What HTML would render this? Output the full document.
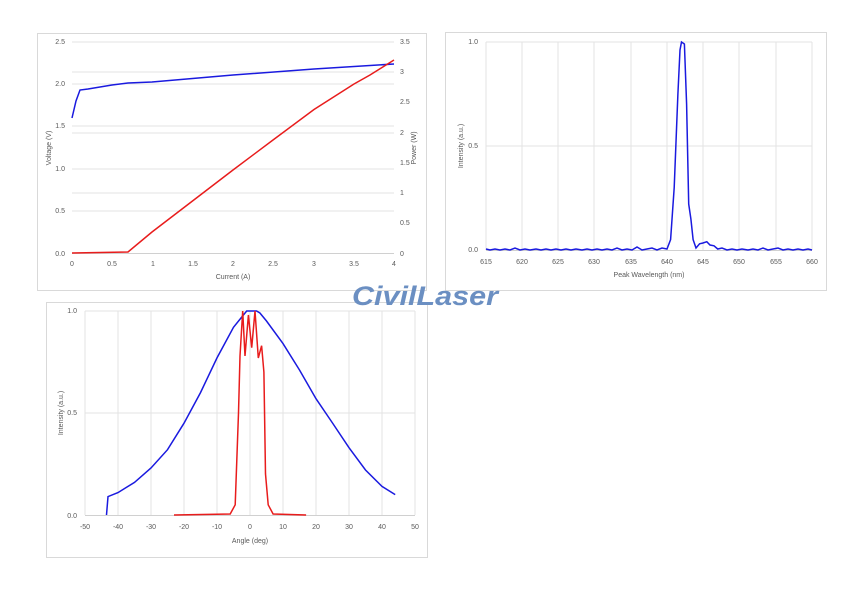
<!DOCTYPE html>
<html><head><meta charset="utf-8"><style>
html,body{margin:0;padding:0;background:#fff;}
svg{display:block;font-family:"Liberation Sans",sans-serif;}
</style></head><body>
<svg width="853" height="589" viewBox="0 0 853 589" xmlns="http://www.w3.org/2000/svg">
<rect width="853" height="589" fill="#fff"/>
<!-- Chart 1 -->
<rect x="37.5" y="33.5" width="389" height="257" fill="#fff" stroke="#d9d9d9"/>
<g stroke="#e3e3e3" stroke-width="1">
<line x1="72" y1="42" x2="394" y2="42"/><line x1="72" y1="84" x2="394" y2="84"/><line x1="72" y1="126" x2="394" y2="126"/><line x1="72" y1="169" x2="394" y2="169"/><line x1="72" y1="211" x2="394" y2="211"/>
<line x1="72" y1="72" x2="394" y2="72"/><line x1="72" y1="133" x2="394" y2="133"/><line x1="72" y1="193" x2="394" y2="193"/>
</g>
<line x1="72" y1="253.5" x2="394" y2="253.5" stroke="#d0d0d0"/>
<g font-size="7" fill="#595959" text-anchor="end">
<text x="65" y="44">2.5</text><text x="65" y="86">2.0</text><text x="65" y="128">1.5</text><text x="65" y="171">1.0</text><text x="65" y="213">0.5</text><text x="65" y="256">0.0</text>
</g>
<g font-size="7" fill="#595959">
<text x="400" y="44">3.5</text><text x="400" y="74">3</text><text x="400" y="104">2.5</text><text x="400" y="135">2</text><text x="400" y="165">1.5</text><text x="400" y="195">1</text><text x="400" y="225">0.5</text><text x="400" y="256">0</text>
</g>
<g font-size="7" fill="#595959" text-anchor="middle">
<text x="72" y="266">0</text><text x="112" y="266">0.5</text><text x="153" y="266">1</text><text x="193" y="266">1.5</text><text x="233" y="266">2</text><text x="273" y="266">2.5</text><text x="314" y="266">3</text><text x="354" y="266">3.5</text><text x="394" y="266">4</text>
<text x="233" y="279">Current (A)</text>
<text transform="translate(51,148) rotate(-90)">Voltage (V)</text>
<text transform="translate(416,148) rotate(-90)">Power (W)</text>
</g>
<polyline fill="none" stroke="#1a1adf" stroke-width="1.5" points="72,118 76,101 80,90 88,89 112,85 128,83 152,82 233,75 314,69 394,64"/>
<polyline fill="none" stroke="#e81c1c" stroke-width="1.5" points="72,253 128,252 152,232 233,170 273,140 314,109.5 354,84 370,75 394,60"/>

<!-- Chart 2 -->
<rect x="445.5" y="32.5" width="381" height="258" fill="#fff" stroke="#d9d9d9"/>
<g stroke="#e3e3e3">
<line x1="486" y1="42" x2="812" y2="42"/><line x1="486" y1="146" x2="812" y2="146"/>
<line x1="522" y1="42" x2="522" y2="250"/><line x1="558" y1="42" x2="558" y2="250"/><line x1="594" y1="42" x2="594" y2="250"/><line x1="631" y1="42" x2="631" y2="250"/><line x1="667" y1="42" x2="667" y2="250"/><line x1="703" y1="42" x2="703" y2="250"/><line x1="739" y1="42" x2="739" y2="250"/><line x1="776" y1="42" x2="776" y2="250"/><line x1="812" y1="42" x2="812" y2="250"/><line x1="486" y1="42" x2="486" y2="250"/>
</g>
<line x1="486" y1="250.5" x2="812" y2="250.5" stroke="#d0d0d0"/>
<g font-size="7" fill="#595959" text-anchor="end">
<text x="478" y="44">1.0</text><text x="478" y="148">0.5</text><text x="478" y="252">0.0</text>
</g>
<g font-size="7" fill="#595959" text-anchor="middle">
<text x="486" y="264">615</text><text x="522" y="264">620</text><text x="558" y="264">625</text><text x="594" y="264">630</text><text x="631" y="264">635</text><text x="667" y="264">640</text><text x="703" y="264">645</text><text x="739" y="264">650</text><text x="776" y="264">655</text><text x="812" y="264">660</text>
<text x="649" y="277">Peak Wavelength (nm)</text>
<text transform="translate(463,146) rotate(-90)">Intensity (a.u.)</text>
</g>
<polyline fill="none" stroke="#1a1adf" stroke-width="1.5" points="486,249 490,250 495,249 500,250 505,249 510,250 515,248 520,250 525,249 530,250 536,249 541,250 546,249 551,250 556,249 561,250 566,249 571,250 576,249 582,250 587,249 592,250 597,249 602,250 607,249 612,250 617,248 622,250 627,249 632,250 637,247 642,250 647,249 652,248 657,250 662,248 667,249 670.6,239.6 674.2,187.6 677.9,94 680,50 681.5,42 684.4,44 686.6,104 688.7,204 690.9,219 693.1,239.6 696,248 699.6,243.8 703,243 706.8,241.7 710,245 714,245.8 717.7,249 722,248 727,250 732,249 737,250 742,249 748,250 753,249 758,250 763,248 768,250 773,249 778,248 783,250 788,249 793,250 798,249 803,250 808,249 812,250"/>

<!-- Chart 3 -->
<rect x="46.5" y="302.5" width="381" height="255" fill="#fff" stroke="#d9d9d9"/>
<g stroke="#e3e3e3">
<line x1="85" y1="311" x2="415" y2="311"/><line x1="85" y1="413" x2="415" y2="413"/>
<line x1="85" y1="311" x2="85" y2="515"/><line x1="118" y1="311" x2="118" y2="515"/><line x1="151" y1="311" x2="151" y2="515"/><line x1="184" y1="311" x2="184" y2="515"/><line x1="217" y1="311" x2="217" y2="515"/><line x1="250" y1="311" x2="250" y2="515"/><line x1="283" y1="311" x2="283" y2="515"/><line x1="316" y1="311" x2="316" y2="515"/><line x1="349" y1="311" x2="349" y2="515"/><line x1="382" y1="311" x2="382" y2="515"/><line x1="415" y1="311" x2="415" y2="515"/>
</g>
<line x1="85" y1="515.5" x2="415" y2="515.5" stroke="#d0d0d0"/>
<g font-size="7" fill="#595959" text-anchor="end">
<text x="77" y="313">1.0</text><text x="77" y="415">0.5</text><text x="77" y="518">0.0</text>
</g>
<g font-size="7" fill="#595959" text-anchor="middle">
<text x="85" y="529">-50</text><text x="118" y="529">-40</text><text x="151" y="529">-30</text><text x="184" y="529">-20</text><text x="217" y="529">-10</text><text x="250" y="529">0</text><text x="283" y="529">10</text><text x="316" y="529">20</text><text x="349" y="529">30</text><text x="382" y="529">40</text><text x="415" y="529">50</text>
<text x="250" y="543">Angle (deg)</text>
<text transform="translate(63,413) rotate(-90)">Intensity (a.u.)</text>
</g>
<polyline fill="none" stroke="#1a1adf" stroke-width="1.5" points="106.5,515 108,496.6 118,492.6 134.5,482.4 151,468 167.5,449.7 184,423.2 200.5,392.6 217,357.9 233.5,327.3 243.4,315 246.7,311 256.6,311 259.9,313 266.5,321 283,343.6 299.5,370 316,398.7 332.5,423 349,447.7 365.5,470 382,486.4 395.2,494.6"/>
<polyline fill="none" stroke="#e81c1c" stroke-width="1.5" points="174,515 230.2,514 235.2,504.8 238.5,413 240,355.9 242.7,311 245,355.9 248.4,315 251.7,347.7 255,311 258.3,358 261.6,345.7 263.9,372 265.5,474 268.2,504.8 273.1,514 306.1,515"/>

<!-- Logo -->
<text x="352" y="305" font-size="27" font-weight="bold" font-style="italic" fill="#6b8fc2" textLength="146" lengthAdjust="spacingAndGlyphs">CivilLaser</text>
</svg>
</body></html>
